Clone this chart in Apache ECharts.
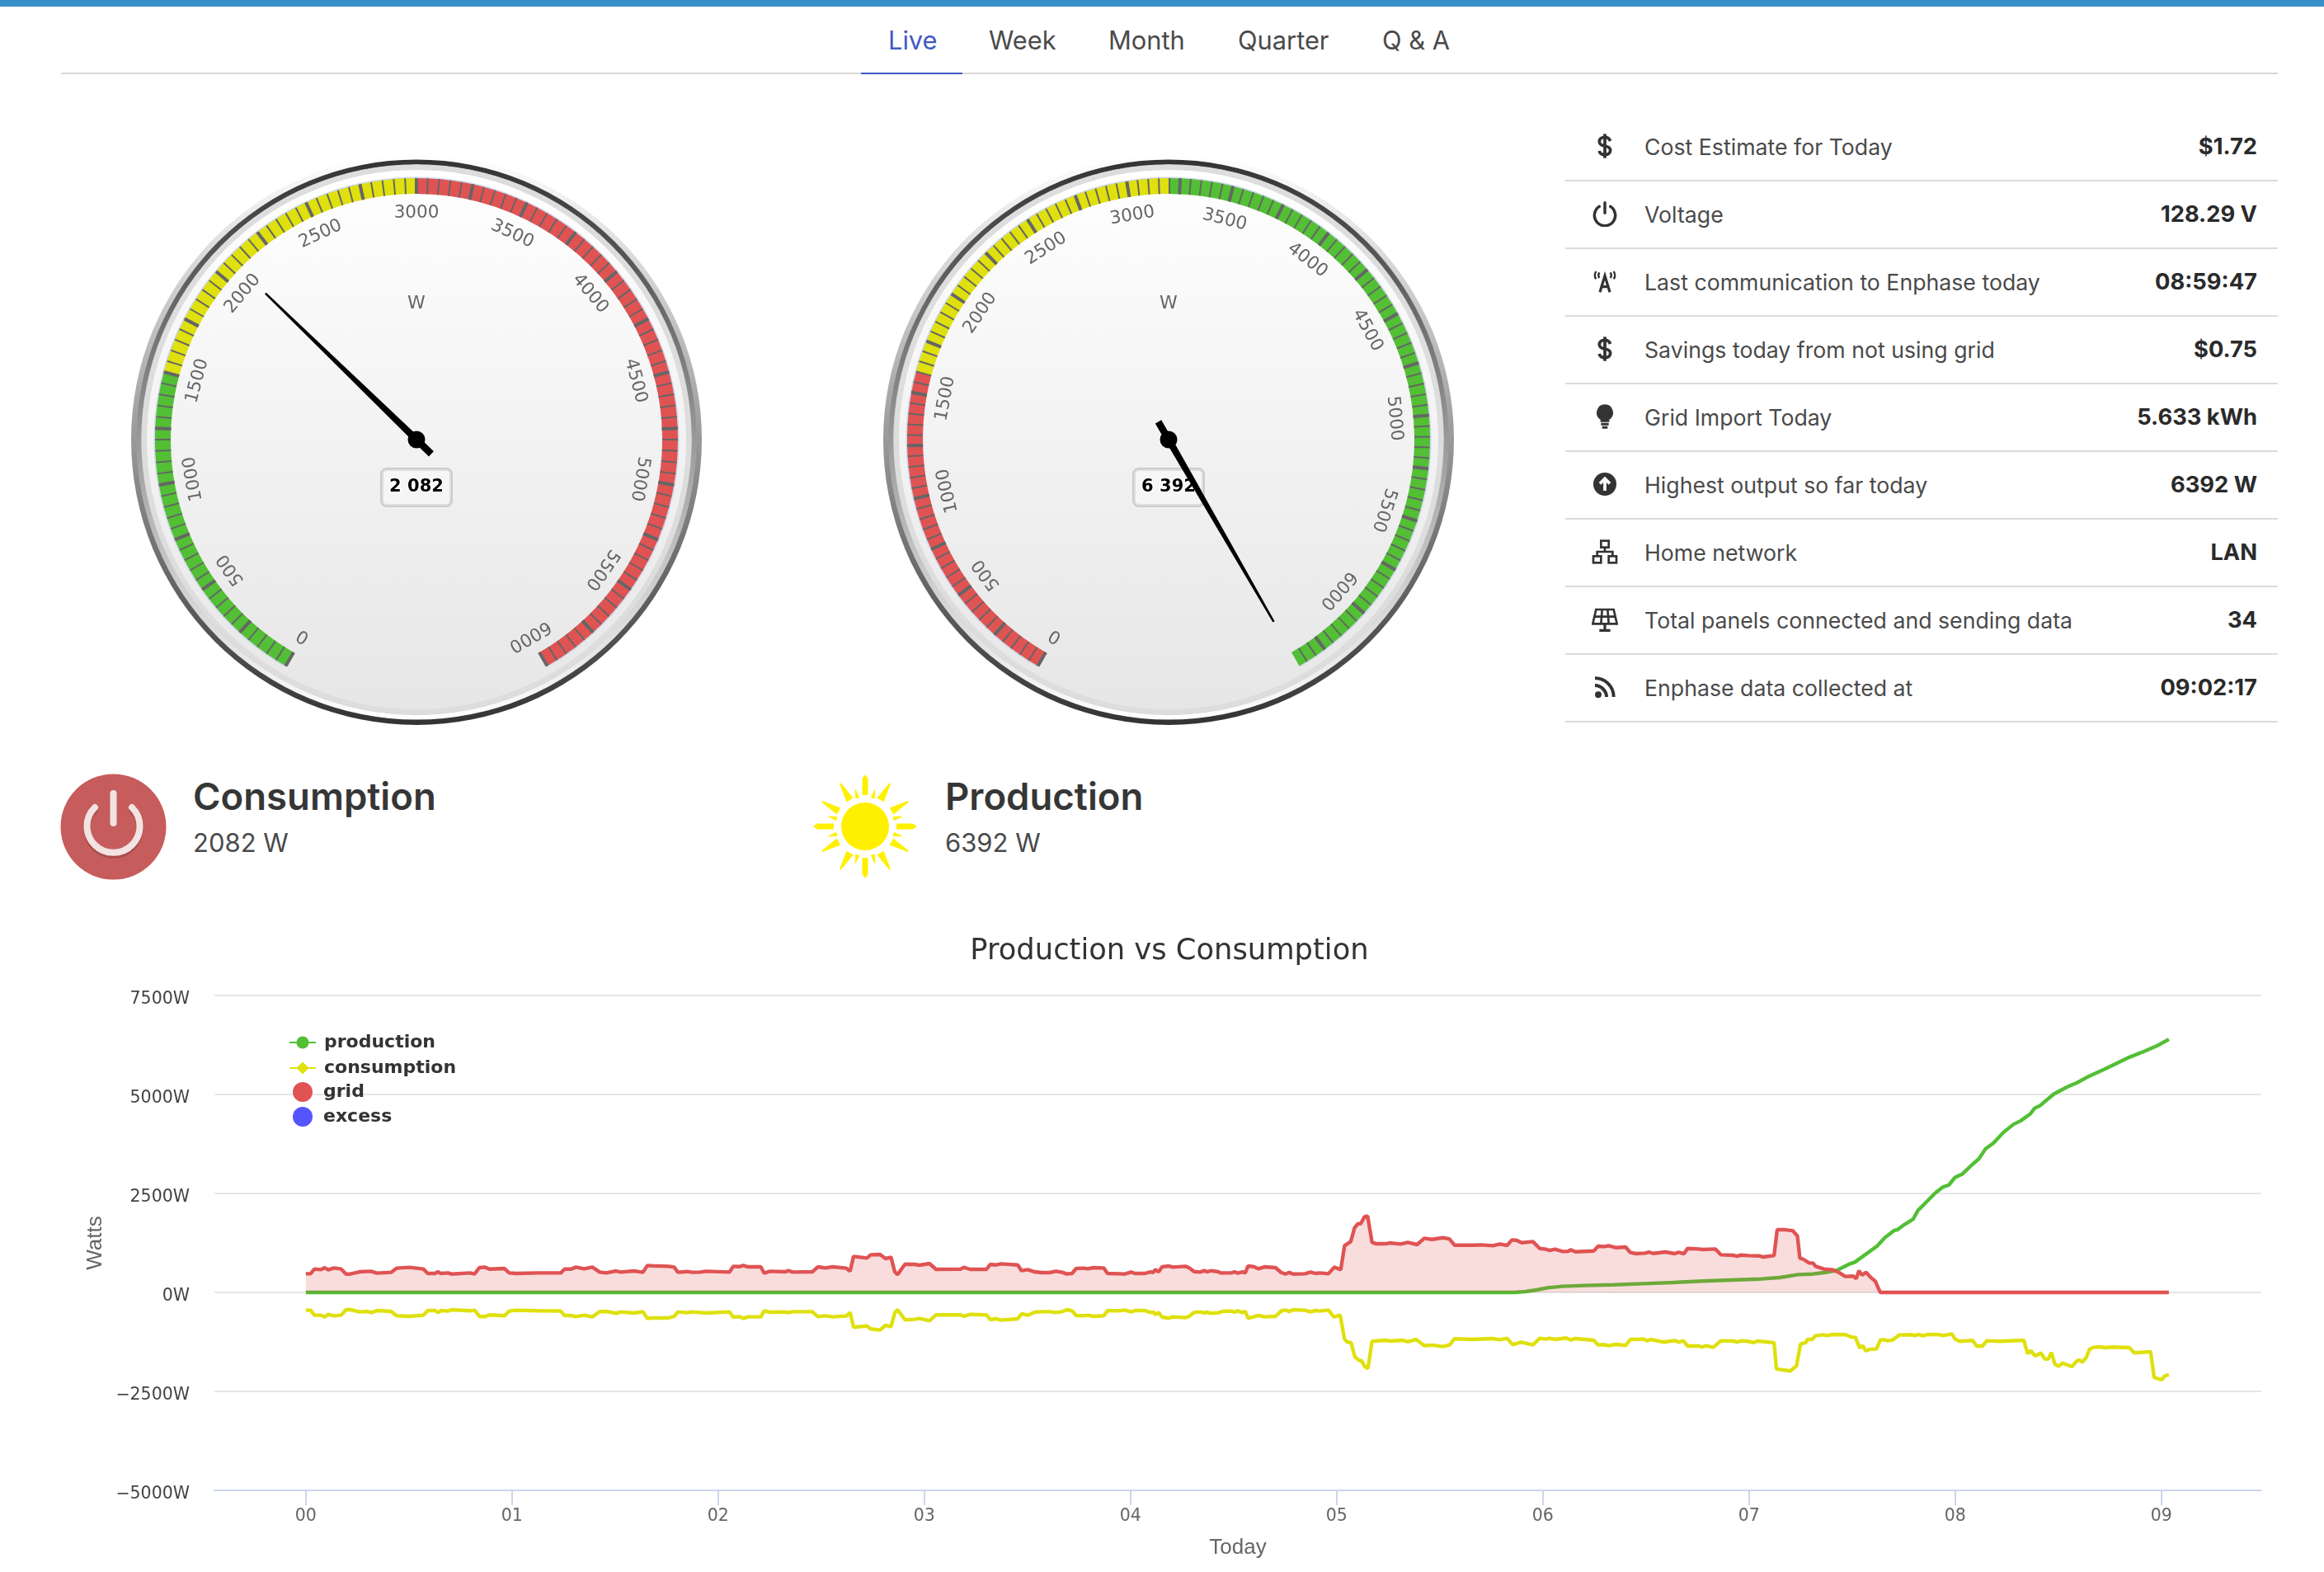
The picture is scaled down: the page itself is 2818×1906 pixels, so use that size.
<!DOCTYPE html>
<html>
<head>
<meta charset="utf-8">
<title>Enphase dashboard</title>
<script src="https://cdn.jsdelivr.net/npm/echarts@6/dist/echarts.min.js"></script>
<style>
  html, body { margin: 0; padding: 0; background: #fff; width: 2818px; height: 1906px; overflow: hidden; }
  body { position: relative; font-family: Inter, Roboto, sans-serif; color: #444; }
  .abs { position: absolute; }
  #topbar { left: 0; top: 0; width: 2818px; height: 8px; background: #398fcc; }
  #tabline { left: 74px; top: 88px; width: 2688px; height: 2px; background: #d9d9d9; }
  #tabmark { left: 1044px; top: 88px; width: 123px; height: 2px; background: #4259c3; }
  .tab { top: 29px; font-size: 30.8px; line-height: 40px; color: #4a4a4a; white-space: nowrap; }
  .tab.on { color: #4259c3; }
  .row { left: 1898px; width: 864px; height: 80px; border-bottom: 2px solid #dbdbdb; }
  .row svg { position: absolute; left: 32px; top: 23px; width: 32px; height: 32px; }
  .row .lab { position: absolute; left: 96px; top: 21px; font-size: 26.7px; line-height: 38px; color: #4a4a4a; white-space: nowrap; }
  .row .val { position: absolute; right: 25px; top: 21px; font-size: 27.3px; line-height: 38px; font-weight: 650; color: #2a2a2a; white-space: nowrap; }
  .big { font-size: 45.5px; line-height: 56px; font-weight: 600; color: #363636; white-space: nowrap; }
  .sub { font-size: 31px; line-height: 40px; color: #4a4a4a; white-space: nowrap; }
  .gauge { width: 740px; height: 740px; top: 163px; }
  #trend { left: 0; top: 1100px; width: 2818px; height: 806px; }
</style>
</head>
<body>
<div class="abs" id="topbar"></div>
<div id="tabs"></div>
<div class="abs" id="tabline"></div>
<div class="abs" id="tabmark"></div>
<div id="rows"></div>

<div class="abs gauge" id="gaugeUse" style="left:135px"></div>
<div class="abs gauge" id="gaugeMake" style="left:1047px"></div>

<svg class="abs" style="left:73px;top:938px" width="129" height="129" viewBox="0 0 129 129">
  <circle cx="64.5" cy="64.5" r="64" fill="#c65c5c"/>
  <path d="M42 41 A 32 32 0 1 0 87 41" fill="none" stroke="#a94c4c" stroke-width="8" stroke-linecap="round" transform="translate(0 3)"/>
  <path d="M42 41 A 32 32 0 1 0 87 41" fill="none" stroke="#f3e3e3" stroke-width="8" stroke-linecap="round"/>
  <path d="M64.5 24 V 60" stroke="#f3e3e3" stroke-width="8" stroke-linecap="round"/>
</svg>
<div class="abs big" style="left:234px;top:938px">Consumption</div>
<div class="abs sub" style="left:234px;top:1002px">2082 W</div>

<svg class="abs" style="left:985px;top:938px" width="128" height="128" viewBox="-64 -64 128 128" id="sun"></svg>
<div class="abs big" style="left:1146px;top:938px">Production</div>
<div class="abs sub" style="left:1146px;top:1002px">6392 W</div>

<div class="abs" id="trend"></div>

<script>
var tabNames = ['Live', 'Week', 'Month', 'Quarter', 'Q & A'];
var tabLefts = [1077, 1199, 1344, 1501, 1676];

var rowLabels = ['Cost Estimate for Today', 'Voltage', 'Last communication to Enphase today', 'Savings today from not using grid',
  'Grid Import Today', 'Highest output so far today', 'Home network', 'Total panels connected and sending data', 'Enphase data collected at'];
var rowValues = ['$1.72', '128.29 V', '08:59:47', '$0.75', '5.633 kWh', '6392 W', 'LAN', '34', '09:02:17'];

var hourTicks = [0, 60, 120, 180, 240, 300, 360, 420, 480, 540];
var yMin = -5000, yMax = 7500, yStep = 2500;

// gauges
var useValue = 2082, useMax = 6000;
var makeValue = 6392, makeMax = 6392;
var majorStep = 250, labelStep = 500, minorStep = 50;

// trend, minutes after midnight and watts
var productionMinutes = [0, 351.8, 355, 358.2, 361.4, 365.7, 372.1, 380.7, 389.3, 397.9, 406.4, 415, 423.6, 428.9, 430.5, 434.3, 438.6, 441.8, 445.3,
  449.4, 450.8, 457.3, 459.5, 462.3, 463.2, 465.1, 467.8, 469.2, 471, 474.2, 476.5, 478.2, 480, 482.1, 485.3, 486.9, 488.8, 491.2, 494, 497, 499,
  501.8, 503.2, 504.6, 508.7, 512.8, 515.6, 518.8, 523.4, 530.7, 535.3, 539, 542.2];
var productionWatts = [0, 0, 21, 62, 118, 153, 174, 194, 222, 250, 285, 312, 340, 375, 396, 451, 465, 500, 548,
  722, 763, 1173, 1381, 1568, 1582, 1707, 1853, 2075, 2228, 2512, 2665, 2714, 2908, 2991, 3255, 3373, 3623, 3775, 4039, 4247, 4331,
  4504, 4657, 4712, 5011, 5198, 5302, 5455, 5635, 5941, 6100, 6239, 6392];

var gridMinutes = [0, 1.4, 2.5, 4.4, 5.5, 6.5, 8.2, 10.3, 11.7, 13, 15.6, 18.9, 20.7, 24.8, 26.4, 30.1, 34.2, 35.5, 37.6, 38.5, 39.2, 41.4, 42.4, 47.8, 49.1,
  50.5, 52.1, 53.4, 57.8, 59.2, 61.2, 67.6, 74.2, 75.3, 77.2, 78.6, 81, 83.4, 85.5, 87.4, 90.3, 91.7, 95.5, 98.1, 99.4, 100.8, 105.6, 107.2, 108.3, 111,
  112.4, 114.8, 116.4, 123.3, 124.4, 126.3, 127.3, 128.7, 132.4, 133.4, 135.1, 139.4, 140.5, 141.7, 147.4, 149, 151.2, 153.3, 157.3, 158.4, 159.4,
  163.3, 164.4, 167.1, 168.7, 170.3, 171.4, 172.2, 174.4, 177.2, 178.6, 181.5, 183.4, 190.6, 191.5, 193.3, 198.1, 199.2, 200.8, 202.4, 207.2, 208.3,
  210.1, 212.1, 214.2, 216.4, 218.3, 220.1, 221.5, 223, 224.2, 226.5, 227.6, 229.2, 232.2, 233.3, 236.7, 238.3, 240.2, 241.3, 244.2, 245.8, 246.6, 247.2,
  248.2, 249.2, 251.2, 252.3, 256, 257.1, 258.5, 260.3, 261.4, 262.4, 263.3, 265.6, 266.2, 269.4, 270.3, 271.2, 272.6, 273.4, 274.2, 275.8, 277.2, 279,
  282.2, 283.9, 285.1, 286.2, 287.3, 290.8, 292.4, 293.8, 295.1, 297.6, 299.3, 301.2, 302.3, 304.1, 305.2, 306.2, 307, 308.1, 309, 310.3, 311.6, 314.3,
  315.4, 318.6, 320.7, 323.4, 325.5, 327.7, 330.9, 332.8, 334.3, 339.5, 342.1, 345.4, 347.5, 349.6, 351, 352.3, 353.9, 357.1, 359.1, 360.9, 362, 363.6,
  365.7, 367.3, 368.1, 369.5, 374.8, 376.1, 378, 379.1, 381.2, 384.1, 385.5, 387.1, 389.8, 390.9, 392, 395.7, 398.4, 399.5, 401.1, 402.1, 405.4, 406.4,
  410.2, 411.8, 415.5, 416.6, 417.7, 419.8, 423, 424.1, 427.3, 428.2, 430.5, 432.7, 434.1, 434.8, 435.9, 437.5, 438.6, 439.4, 441.8, 444.5, 446.1, 448,
  450.4, 451.2, 452, 452.9, 454.1, 455.4, 456.8, 457.3, 458.2, 542.2];
var gridWatts = [472, 472, 590, 576, 625, 569, 618, 590, 465, 465, 520, 534, 486, 507, 611, 632, 590, 479, 479, 520, 479, 493, 465, 493, 465,
  625, 638, 590, 604, 493, 479, 493, 493, 590, 590, 638, 597, 638, 514, 493, 541, 514, 541, 507, 680, 673, 659, 638, 507, 527,
  507, 514, 534, 514, 659, 652, 680, 645, 645, 486, 534, 520, 548, 514, 520, 645, 618, 645, 611, 534, 909,
  868, 951, 958, 854, 888, 520, 451, 715, 708, 687, 729, 583, 590, 632, 583, 583, 708, 694, 722, 694, 548,
  576, 520, 500, 500, 534, 507, 465, 479, 604, 611, 597, 625, 618, 479, 472, 465, 514, 479, 479, 520, 500, 576,
  520, 645, 666, 638, 659, 618, 527, 514, 548, 520, 548, 520, 493, 493, 520, 486, 520, 493, 666, 652, 597, 645,
  625, 500, 465, 507, 465, 472, 514, 479, 493, 472, 638, 576, 1180, 1284, 1631, 1735, 1735, 1909, 1929, 1263, 1228, 1228,
  1249, 1221, 1263, 1208, 1367, 1339, 1381, 1353, 1194, 1194, 1201, 1180, 1221, 1187, 1326, 1319, 1256, 1284, 1110, 1090, 1062, 1090,
  1034, 1034, 1076, 1027, 1048, 1166, 1159, 1180, 1131, 1145, 1006, 979, 992, 1020, 985, 1020, 979, 1013, 979, 1110, 1097, 1083,
  1097, 951, 937, 916, 944, 930, 923, 895, 930, 1582, 1582, 1561, 1423, 868, 833, 743, 743, 659, 590, 569, 507, 403,
  410, 347, 548, 437, 507, 382, 278, 174, 0, 0];

var consumptionMinutes = [0, 1.4, 2.5, 4.4, 5.5, 6.5, 8.2, 10.3, 11.7, 13, 15.6, 17.5, 19.2, 20.7, 24.8, 26.4, 30.1, 34.2, 35.5, 37.6, 38.5, 39.4, 41.4, 42.4, 47.8, 49.1,
  50.5, 52.1, 53.4, 57.8, 59.2, 61.2, 67.6, 74.2, 75.3, 77.2, 78.6, 81, 83.4, 85.5, 87.4, 90.3, 91.7, 95.5, 98.1, 99.4, 100.8, 105.6, 107.2, 108.3, 111,
  112.4, 116.4, 123.3, 124.4, 126.3, 127.3, 128.7, 132.4, 133.4, 135.1, 139.4, 140.5, 141.7, 147.4, 149, 151.2, 153.3, 157.3, 158.4, 159.4,
  163.3, 164.4, 167.1, 168.7, 170.3, 171.4, 172.2, 174.4, 177.2, 178.6, 181.5, 183.4, 190.6, 191.5, 193.3, 198.1, 199.2, 200.8, 202.4, 207.2, 208.3,
  210.1, 212.1, 214.2, 216.4, 218.3, 220.1, 221.5, 223, 224.2, 226.5, 227.6, 229.2, 232.2, 233.3, 236.7, 238.3, 240.2, 241.3, 244.2, 245.8, 246.6, 247.2,
  248.2, 249.2, 251.2, 252.3, 256, 257.1, 258.5, 260.3, 261.4, 262.4, 263.3, 265.6, 266.7, 269.4, 270.3, 271.2, 272.6, 273.4, 274.2, 275.8, 277.2, 279,
  282.2, 283.9, 285.1, 286.2, 287.3, 290.8, 292.4, 293.8, 295.1, 297.6, 299.2, 301, 302.3, 303.1, 304.2, 305.3, 306.6, 307.2, 308.2, 309.1, 310.3, 314.3,
  315.4, 319.1, 320.7, 323.1, 325.5, 327.7, 330.9, 332.8, 334.3, 339.5, 345.4, 347.5, 349.6, 351.2, 353.7, 357.1, 359.1, 360.9, 362, 363.6,
  366.8, 368.1, 369.5, 374.8, 376.1, 378, 379.1, 381.2, 384.1, 385.5, 389.3, 390.4, 391.4, 395.2, 398.4, 399.5, 400.9, 402.1, 405.4, 406.4, 407.5, 409.6,
  411.8, 415.5, 416.6, 417.7, 419.8, 421.2, 422.5, 427.3, 428, 432, 433.8, 435, 436.6, 437, 438.4, 439.3, 441.6, 442.6, 444.4, 448.1, 449.9, 451,
  452.2, 453.1, 454, 455, 457.1, 458.2, 459.1, 460.5, 461.8, 463.7, 467.4, 468.3, 469.2, 470.6, 472.1, 475.6, 476.4, 479, 480, 481.3, 485.1, 486.2, 488,
  489.2, 493.1, 500, 501.1, 502, 503.2, 505, 506.1, 507.1, 508, 509, 510.1, 511.2, 514, 515.3, 516, 517, 518.1, 519.1, 520.2, 522, 523.8, 525.7, 530.7,
  532.1, 536.9, 537.9, 540.1, 541, 542.2];
var consumptionWatts = [-451, -451, -576, -576, -618, -555, -590, -576, -437, -437, -493, -479, -507, -458, -479, -590, -604, -576, -458, -458, -507, -458, -472, -437, -465, -451,
  -604, -611, -569, -590, -472, -451, -465, -472, -583, -583, -611, -576, -618, -486, -479, -527, -493, -520, -486, -659, -645, -645, -604, -493, -514,
  -493, -520, -493, -625, -611, -659, -618, -618, -465, -500, -493, -514, -486, -486, -611, -590, -618, -597, -507, -881,
  -847, -923, -951, -833, -868, -520, -437, -694, -680, -659, -715, -569, -569, -604, -555, -569, -687, -666, -701, -666, -541,
  -576, -500, -486, -486, -507, -486, -437, -465, -583, -590, -576, -604, -590, -465, -465, -444, -493, -458, -458, -507, -493, -562,
  -507, -625, -652, -618, -638, -604, -507, -493, -520, -500, -527, -514, -479, -472, -500, -465, -507, -479, -652, -618, -583, -618,
  -604, -465, -444, -486, -437, -451, -493, -458, -472, -444, -625, -569, -1180, -1256, -1270, -1631, -1721, -1721, -1874, -1922, -1235, -1208,
  -1228, -1208, -1249, -1187, -1346, -1332, -1367, -1332, -1173, -1187, -1166, -1194, -1159, -1319, -1256, -1326, -1159, -1180, -1159, -1187,
  -1152, -1201, -1166, -1208, -1326, -1319, -1346, -1312, -1339, -1187, -1180, -1221, -1187, -1256, -1215, -1256, -1221, -1353, -1353, -1381, -1346, -1388,
  -1221, -1228, -1256, -1221, -1235, -1270, -1228, -1270, -1936, -1985, -1860, -1305, -1263, -1187, -1187, -1097, -1069, -1090, -1062, -1069, -1131, -1138,
  -1402, -1346, -1478, -1437, -1430, -1208, -1194, -1221, -1201, -1076, -1069, -1090, -1062, -1097, -1062, -1069, -1090, -1048, -1180, -1235, -1215, -1353, -1353,
  -1221, -1235, -1208, -1548, -1471, -1603, -1534, -1686, -1679, -1520, -1811, -1867, -1784, -1874, -1742, -1707, -1756, -1652, -1437, -1388, -1374, -1395, -1381, -1395,
  -1527, -1499, -2151, -2207, -2110, -2075];

var greenColor = '#52bf34', yellowColor = '#dfe00d', redColor = '#e05353', blueColor = '#5555ff';
var labelFont = '"DejaVu Sans", sans-serif';

function pairs(xs, ys) {
  return xs.map(function (x, i) { return [x, ys[i]]; });
}

function spaced(v) {
  return String(Math.round(v)).replace(/\B(?=(\d{3})+$)/g, ' ');
}

// the html around the charts
var dollarIcon = '<path d="M17 7.5C16 5 14 4 12 4 9 4 7 5.5 7 8s2 3.5 5 4 5 1.5 5 4-2 4-5 4c-2.5 0-4.5-1-5.2-3.5" fill="none" stroke="#333" stroke-width="2.8"/><path d="M12 1v22" stroke="#333" stroke-width="2.8"/>';
var icons = [
  dollarIcon,
  '<path d="M7 5.5a9.5 9.5 0 1 0 10 0" fill="none" stroke="#333" stroke-width="2.6" stroke-linecap="round"/><path d="M12 2v9.5" stroke="#333" stroke-width="2.6" stroke-linecap="round"/>',
  '<path d="M7.5 22 12 7l4.5 15M9 17h6" fill="none" stroke="#333" stroke-width="2.4"/><path d="M4 3c-1.5 2.5-1.5 5 0 7M20 3c1.5 2.5 1.5 5 0 7M7 4c-1 1.5-1 3.5 0 5M17 4c1 1.5 1 3.5 0 5" fill="none" stroke="#333" stroke-width="1.8"/>',
  dollarIcon,
  '<path d="M12 1a7.5 7.5 0 0 0-4 13.8V17h8v-2.2A7.5 7.5 0 0 0 12 1z" fill="#333"/><path d="M8.5 19h7M9.5 22h5" stroke="#333" stroke-width="2.2"/>',
  '<circle cx="12" cy="12" r="10.5" fill="#333"/><path d="M12 18V7M7.5 11.5 12 7l4.5 4.5" fill="none" stroke="#fff" stroke-width="2.8"/>',
  '<g fill="none" stroke="#333" stroke-width="2"><rect x="8.5" y="2" width="7" height="6"/><rect x="1.5" y="16" width="7" height="6"/><rect x="15.5" y="16" width="7" height="6"/><path d="M12 8v4M5 16v-4h14v4"/></g>',
  '<g fill="none" stroke="#333" stroke-width="2"><path d="M4 3h16l3 13H1zM9.5 3 8.5 16M14.5 3l1 13M2.5 9.5h19"/></g><path d="M12 16v5M7 22h10" stroke="#333" stroke-width="2.4"/>',
  '<circle cx="6" cy="19" r="3" fill="#333"/><path d="M3 10.5c5.5 0 10.5 5 10.5 10.5M3 4c9.5 0 17 7.5 17 17" fill="none" stroke="#333" stroke-width="3"/>'
];

document.getElementById('tabs').innerHTML = tabNames.map(function (name, i) {
  return '<div class="abs tab' + (i === 0 ? ' on' : '') + '" style="left:' + tabLefts[i] + 'px">' + name + '</div>';
}).join('');

document.getElementById('rows').innerHTML = rowLabels.map(function (label, i) {
  return '<div class="abs row" style="top:' + (138 + i * 82) + 'px"><svg viewBox="0 0 24 24">' + icons[i] + '</svg>' +
    '<div class="lab">' + label + '</div><div class="val">' + rowValues[i] + '</div></div>';
}).join('');

var sunParts = '<circle r="29" fill="#fff000"/>';
[0, 90, 180, 270].forEach(function (a) {
  sunParts += '<path d="M-3.5 -38 L3.5 -38 L3.5 -58 L0 -63 L-3.5 -58 Z" transform="rotate(' + a + ')" fill="#fff000"/>';
});
[30, 60, 120, 150, 210, 240, 300, 330].forEach(function (a) {
  sunParts += '<path d="M-3.5 -38 L3.5 -38 L0 -60 Z" transform="rotate(' + a + ')" fill="#fff000" stroke="#fff000" stroke-width="2"/>';
});
[15, 75, 105, 165, 195, 255, 285, 345].forEach(function (a) {
  sunParts += '<path d="M-2 -36 L2 -36 L0 -46 Z" transform="rotate(' + a + ')" fill="#fff000" stroke="#fff000"/>';
});
document.getElementById('sun').innerHTML = sunParts;

// gauges
function verticalFill(from, to) {
  return new echarts.graphic.LinearGradient(0, 0, 0, 1, [{ offset: 0, color: from }, { offset: 1, color: to }]);
}

function angleOf(v, max) {
  return 240 - 300 * v / max;
}

function makeGauge(id, value, max, zones) {
  var cx = 370, cy = 370;
  var off = { show: false };
  var lastMajor = Math.floor(max / majorStep) * majorStep;
  var lastMinor = Math.floor(max / minorStep) * minorStep;
  var series = [
    { // thin axis arc on the outside of the band
      type: 'gauge', z: 2, center: [cx, cy], radius: 318.5, startAngle: 240, endAngle: -60, min: 0, max: max,
      axisLine: { lineStyle: { width: 2, color: [[1, '#ccd6eb']] } },
      axisTick: off, splitLine: off, axisLabel: off, pointer: off, anchor: off, title: off, detail: off
    },
    { // coloured zones
      type: 'gauge', z: 2, center: [cx, cy], radius: 317, startAngle: 240, endAngle: -60, min: 0, max: max,
      axisLine: { lineStyle: { width: 19, color: zones } },
      axisTick: off, splitLine: off, axisLabel: off, pointer: off, anchor: off, title: off, detail: off
    },
    { // ticks every 250 W with five divisions, labels every 500 W
      type: 'gauge', z: 3, center: [cx, cy], radius: 317, startAngle: 240, endAngle: angleOf(lastMajor, max), min: 0, max: lastMajor,
      splitNumber: lastMajor / majorStep,
      axisLine: { show: false, lineStyle: { width: 0 } },
      splitLine: { distance: 0, length: 19, lineStyle: { color: '#666666', width: 4 } },
      axisTick: { distance: 0, length: 19, splitNumber: majorStep / minorStep, lineStyle: { color: '#666666', width: 2 } },
      axisLabel: {
        distance: 23, rotate: 'tangential', align: 'center', verticalAlign: 'middle',
        fontFamily: labelFont, fontSize: 21.5, color: '#666666',
        formatter: function (v) { return v % labelStep === 0 ? String(v) : ''; }
      },
      pointer: off, anchor: off,
      title: { show: true, offsetCenter: [0, -165], fontFamily: labelFont, fontSize: 22, color: '#666666' },
      detail: off,
      data: [{ value: 0, name: 'W' }]
    },
    { // value box
      type: 'gauge', z: 4, center: [cx, cy], radius: 317, startAngle: 240, endAngle: -60, min: 0, max: max,
      axisLine: { show: false }, axisTick: off, splitLine: off, axisLabel: off, pointer: off, anchor: off, title: off,
      detail: {
        show: true, offsetCenter: [0, 58], width: 84, height: 44, padding: 0, formatter: spaced,
        backgroundColor: 'rgba(255,255,255,0.35)', borderColor: '#cccccc', borderWidth: 2, borderRadius: 6,
        fontFamily: labelFont, fontWeight: 'bold', fontSize: 21, color: '#000000', textBorderColor: '#ffffff', textBorderWidth: 3, lineHeight: 44
      },
      data: [{ value: value }]
    },
    { // needle
      type: 'gauge', z: 5, center: [cx, cy], radius: 317, startAngle: 240, endAngle: -60, min: 0, max: max,
      axisLine: { show: false }, axisTick: off, splitLine: off, axisLabel: off, title: off, detail: off,
      pointer: {
        icon: 'path://M35 0L65 0L100 91L100 100L0 100L0 91Z', width: 8.5, length: 280, offsetCenter: [0, 25],
        itemStyle: { color: '#000000' }
      },
      anchor: { show: true, showAbove: true, size: 21, itemStyle: { color: '#000000', borderWidth: 0 } },
      data: [{ value: value }]
    }
  ];
  if (lastMinor > lastMajor) {
    // minor ticks carry on after the last major tick when max is not a round number
    series.push({
      type: 'gauge', z: 3, center: [cx, cy], radius: 317, startAngle: angleOf(lastMajor, max), endAngle: angleOf(lastMinor, max),
      min: lastMajor, max: lastMinor, splitNumber: (lastMinor - lastMajor) / minorStep,
      axisLine: { show: false, lineStyle: { width: 0 } },
      splitLine: { distance: 0, length: 19, lineStyle: { color: '#666666', width: 2 } },
      axisTick: off, axisLabel: off, pointer: off, anchor: off, title: off, detail: off
    });
  }
  var chart = echarts.init(document.getElementById(id));
  chart.setOption({
    animation: false,
    graphic: [
      { type: 'circle', shape: { cx: cx, cy: cy, r: 346 }, style: { fill: verticalFill('#ffffff', '#333333') } },
      { type: 'circle', shape: { cx: cx, cy: cy, r: 339.6 }, style: { fill: verticalFill('#333333', '#ffffff') } },
      { type: 'circle', shape: { cx: cx, cy: cy, r: 333.3 }, style: { fill: verticalFill('#ffffff', '#e6e6e6'), stroke: '#cccccc', lineWidth: 1 } },
      { type: 'ring', shape: { cx: cx, cy: cy, r: 333.3, r0: 327 }, style: { fill: '#dddddd' } }
    ],
    series: series
  });
}

makeGauge('gaugeUse', useValue, useMax, [[0.25, greenColor], [0.5, yellowColor], [1, redColor]]);
makeGauge('gaugeMake', makeValue, makeMax, [[0.25, redColor], [0.5, yellowColor], [1, greenColor]]);

// production vs consumption
var trend = echarts.init(document.getElementById('trend'));
function lineSeries(name, color, symbol, data, extra) {
  return Object.assign({
    name: name, type: 'line', z: 2, data: data, color: color, symbol: symbol, showSymbol: false, smooth: false,
    lineStyle: { color: color, width: 4.4 }, itemStyle: { color: color }
  }, extra || {});
}
trend.setOption({
  animation: false,
  title: {
    text: 'Production vs Consumption', left: 1413, top: 31, textAlign: 'center',
    textStyle: { fontFamily: labelFont, fontWeight: 'normal', fontSize: 35.3, color: '#333333' }
  },
  legend: [
    {
      data: ['production', 'consumption'], orient: 'vertical', left: 350, top: 153, padding: 0, itemWidth: 32, itemHeight: 19, itemGap: 9,
      textStyle: { fontFamily: labelFont, fontWeight: 'bold', fontSize: 22, color: '#333333', padding: [0, 0, 0, 5] }
    },
    {
      data: [{ name: 'grid', icon: 'circle' }, { name: 'excess', icon: 'circle' }], orient: 'vertical', left: 350, top: 207, itemWidth: 32, itemHeight: 24, itemGap: 6,
      textStyle: { fontFamily: labelFont, fontWeight: 'bold', fontSize: 22, color: '#333333', padding: [0, 0, 0, 4] }
    }
  ],
  grid: { left: 260, right: 76, top: 107, bottom: 99 },
  xAxis: {
    type: 'value', min: -26.6, max: 569.1, name: 'Today', nameLocation: 'middle', nameGap: 57,
    nameTextStyle: { fontFamily: '"Liberation Sans", sans-serif', fontSize: 26, color: '#666666' },
    splitLine: { show: false },
    axisLine: { show: true, onZero: false, lineStyle: { color: '#ccd6eb', width: 2 } },
    axisTick: { show: true, customValues: hourTicks, length: 18, lineStyle: { color: '#ccd6eb', width: 2 } },
    axisLabel: {
      customValues: hourTicks, margin: 21, fontFamily: labelFont, fontSize: 20.5, color: '#666666',
      formatter: function (v) { return String(v / 60).padStart(2, '0'); }
    }
  },
  yAxis: {
    type: 'value', min: yMin, max: yMax, interval: yStep, name: 'Watts', nameLocation: 'middle', nameGap: 131,
    nameTextStyle: { fontFamily: '"Liberation Sans", sans-serif', fontSize: 26, color: '#666666' },
    axisLine: { show: false }, axisTick: { show: false },
    splitLine: { lineStyle: { color: '#e6e6e6', width: 2 } },
    axisLabel: {
      margin: 30, fontFamily: labelFont, fontSize: 20.5, color: '#444444', verticalAlign: 'top', lineHeight: 10,
      formatter: function (v) { return String(v).replace('-', '\u2212') + 'W'; }
    }
  },
  series: [
    lineSeries('production', greenColor, 'circle', pairs(productionMinutes, productionWatts)),
    lineSeries('consumption', yellowColor, 'diamond', pairs(consumptionMinutes, consumptionWatts)),
    lineSeries('grid', redColor, 'circle', pairs(gridMinutes, gridWatts), { z: 3, areaStyle: { color: redColor, opacity: 0.2 } }),
    lineSeries('excess', blueColor, 'circle', [])
  ]
});
</script>
</body>
</html>
